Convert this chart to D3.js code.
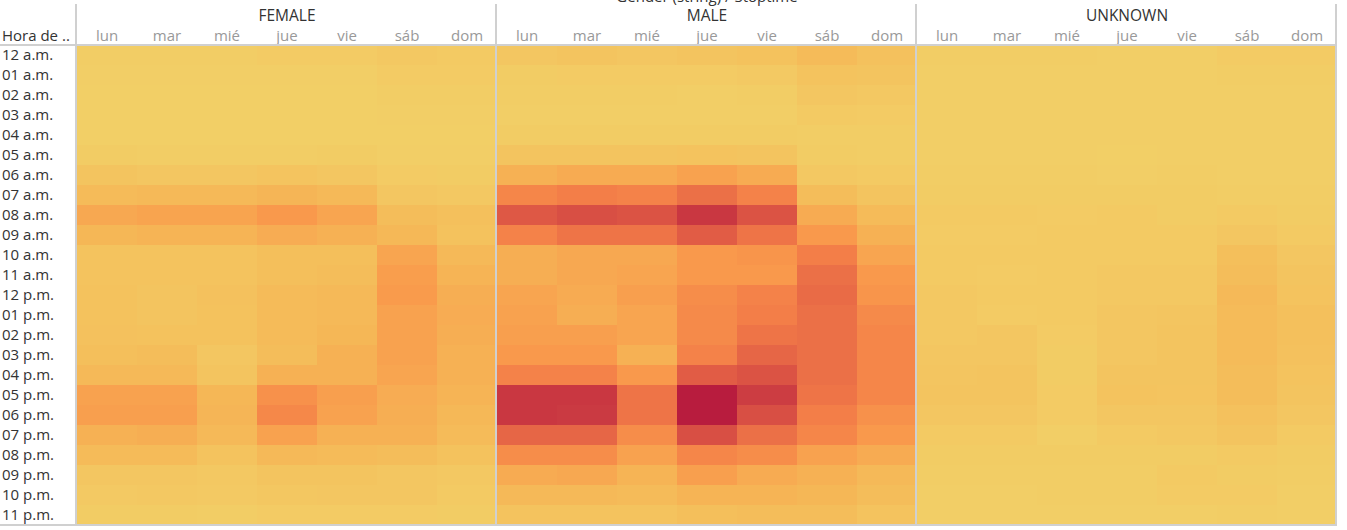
<!DOCTYPE html>
<html>
<head>
<meta charset="utf-8">
<script src="https://cdn.jsdelivr.net/npm/d3@7"></script>
<style>
  body { margin: 0; background: #fff; }
  text { font-family: "Open Sans", "DejaVu Sans", sans-serif; }
</style>
</head>
<body>
<div id="chart"></div>
<script>
const genders = ["FEMALE", "MALE", "UNKNOWN"];
const days = ["lun", "mar", "mié", "jue", "vie", "sáb", "dom"];
const hours = ["12 a.m.", "01 a.m.", "02 a.m.", "03 a.m.", "04 a.m.", "05 a.m.", "06 a.m.", "07 a.m.",
  "08 a.m.", "09 a.m.", "10 a.m.", "11 a.m.", "12 p.m.", "01 p.m.", "02 p.m.", "03 p.m.",
  "04 p.m.", "05 p.m.", "06 p.m.", "07 p.m.", "08 p.m.", "09 p.m.", "10 p.m.", "11 p.m."];

// relative intensity per hour (rows) and weekday (cols)
const female = [
  [0.03, 0.03, 0.03, 0.05, 0.05, 0.08, 0.06],
  [0.02, 0.02, 0.02, 0.02, 0.02, 0.05, 0.05],
  [0.01, 0.01, 0.01, 0.01, 0.01, 0.03, 0.03],
  [0.01, 0.01, 0.01, 0.01, 0.01, 0.02, 0.02],
  [0.01, 0.01, 0.01, 0.01, 0.01, 0.01, 0.01],
  [0.04, 0.03, 0.03, 0.03, 0.04, 0.02, 0.02],
  [0.12, 0.10, 0.10, 0.13, 0.10, 0.05, 0.04],
  [0.22, 0.24, 0.24, 0.27, 0.24, 0.10, 0.08],
  [0.36, 0.39, 0.39, 0.46, 0.38, 0.20, 0.17],
  [0.26, 0.28, 0.28, 0.33, 0.30, 0.25, 0.15],
  [0.14, 0.14, 0.14, 0.18, 0.18, 0.38, 0.24],
  [0.14, 0.14, 0.14, 0.18, 0.20, 0.43, 0.28],
  [0.15, 0.12, 0.16, 0.22, 0.24, 0.45, 0.32],
  [0.15, 0.12, 0.15, 0.22, 0.24, 0.40, 0.33],
  [0.16, 0.15, 0.15, 0.22, 0.26, 0.40, 0.32],
  [0.18, 0.20, 0.10, 0.20, 0.30, 0.40, 0.30],
  [0.24, 0.24, 0.12, 0.30, 0.30, 0.38, 0.30],
  [0.40, 0.40, 0.26, 0.50, 0.42, 0.33, 0.28],
  [0.42, 0.42, 0.27, 0.55, 0.40, 0.32, 0.25],
  [0.30, 0.32, 0.24, 0.40, 0.30, 0.30, 0.22],
  [0.22, 0.22, 0.14, 0.24, 0.22, 0.20, 0.15],
  [0.10, 0.10, 0.08, 0.12, 0.12, 0.10, 0.08],
  [0.07, 0.08, 0.07, 0.09, 0.10, 0.10, 0.06],
  [0.04, 0.04, 0.03, 0.05, 0.05, 0.05, 0.04]
];
const male = [
  [0.10, 0.12, 0.10, 0.12, 0.15, 0.22, 0.16],
  [0.04, 0.05, 0.05, 0.05, 0.07, 0.14, 0.12],
  [0.03, 0.03, 0.03, 0.02, 0.03, 0.10, 0.08],
  [0.02, 0.02, 0.02, 0.02, 0.02, 0.06, 0.05],
  [0.04, 0.04, 0.04, 0.04, 0.04, 0.03, 0.03],
  [0.12, 0.12, 0.12, 0.14, 0.12, 0.04, 0.03],
  [0.30, 0.34, 0.34, 0.40, 0.34, 0.08, 0.06],
  [0.56, 0.60, 0.58, 0.66, 0.58, 0.20, 0.12],
  [0.76, 0.80, 0.78, 0.90, 0.78, 0.34, 0.22],
  [0.58, 0.64, 0.64, 0.74, 0.64, 0.46, 0.30],
  [0.32, 0.36, 0.36, 0.46, 0.48, 0.60, 0.38],
  [0.32, 0.36, 0.38, 0.46, 0.46, 0.66, 0.46],
  [0.38, 0.34, 0.42, 0.52, 0.58, 0.68, 0.48],
  [0.40, 0.32, 0.38, 0.54, 0.60, 0.66, 0.54],
  [0.42, 0.42, 0.38, 0.54, 0.64, 0.66, 0.56],
  [0.46, 0.46, 0.30, 0.58, 0.70, 0.66, 0.56],
  [0.58, 0.58, 0.46, 0.74, 0.78, 0.66, 0.56],
  [0.90, 0.90, 0.64, 1.00, 0.88, 0.64, 0.56],
  [0.90, 0.89, 0.64, 1.00, 0.80, 0.60, 0.50],
  [0.70, 0.70, 0.52, 0.80, 0.66, 0.56, 0.46],
  [0.52, 0.52, 0.40, 0.56, 0.52, 0.40, 0.34],
  [0.34, 0.36, 0.28, 0.42, 0.34, 0.30, 0.24],
  [0.24, 0.24, 0.22, 0.28, 0.28, 0.26, 0.20],
  [0.14, 0.14, 0.14, 0.18, 0.20, 0.20, 0.14]
];
const unknown = [
  [0.03, 0.03, 0.03, 0.02, 0.02, 0.05, 0.05],
  [0.02, 0.02, 0.02, 0.02, 0.02, 0.03, 0.03],
  [0.02, 0.02, 0.02, 0.02, 0.02, 0.02, 0.02],
  [0.02, 0.02, 0.02, 0.02, 0.02, 0.02, 0.02],
  [0.02, 0.02, 0.02, 0.02, 0.02, 0.02, 0.02],
  [0.02, 0.02, 0.02, 0.01, 0.02, 0.02, 0.02],
  [0.03, 0.03, 0.03, 0.02, 0.03, 0.02, 0.02],
  [0.04, 0.04, 0.04, 0.04, 0.04, 0.03, 0.03],
  [0.06, 0.06, 0.05, 0.06, 0.04, 0.06, 0.04],
  [0.05, 0.05, 0.06, 0.06, 0.06, 0.10, 0.06],
  [0.06, 0.06, 0.06, 0.06, 0.06, 0.18, 0.10],
  [0.06, 0.05, 0.06, 0.08, 0.08, 0.20, 0.12],
  [0.08, 0.06, 0.06, 0.08, 0.08, 0.24, 0.14],
  [0.08, 0.05, 0.06, 0.10, 0.11, 0.22, 0.17],
  [0.08, 0.10, 0.05, 0.10, 0.12, 0.22, 0.17],
  [0.10, 0.10, 0.04, 0.10, 0.12, 0.22, 0.16],
  [0.11, 0.12, 0.04, 0.12, 0.12, 0.20, 0.14],
  [0.12, 0.12, 0.05, 0.14, 0.13, 0.20, 0.12],
  [0.10, 0.10, 0.05, 0.10, 0.10, 0.16, 0.10],
  [0.06, 0.06, 0.02, 0.06, 0.08, 0.12, 0.06],
  [0.04, 0.04, 0.04, 0.04, 0.04, 0.06, 0.04],
  [0.03, 0.03, 0.03, 0.03, 0.06, 0.04, 0.03],
  [0.02, 0.02, 0.03, 0.03, 0.05, 0.05, 0.02],
  [0.02, 0.02, 0.02, 0.02, 0.02, 0.03, 0.02]
];
const series = [female, male, unknown];

const width = 1347, height = 530;
const margin = {left: 77, top: 45};
const panelW = 420, rowH = 20;

const svg = d3.select("#chart").append("svg")
  .attr("width", width)
  .attr("height", height);

const panelX = d3.scaleBand().domain(genders).range([margin.left, margin.left + panelW * 3]);
const dayX = d3.scaleBand().domain(days).range([0, panelW]);
const y = d3.scaleBand().domain(hours).range([margin.top, margin.top + rowH * hours.length]);

const color = d3.scaleLinear()
  .domain([0, 0.25, 0.45, 0.6, 0.75, 0.88, 1])
  .range(["#f2d067", "#f5b857", "#f99b4c", "#f37e48", "#e05a45", "#cc3d42", "#b81c3e"])
  .interpolate(d3.interpolateRgb);

// title, clipped by the top edge as in the original view
svg.append("text")
  .attr("x", panelX("MALE") + panelW / 2)
  .attr("y", 2)
  .attr("text-anchor", "middle")
  .attr("font-size", 15)
  .attr("fill", "#333")
  .text("Gender (string) / Stoptime");

const cells = [];
genders.forEach((g, gi) => {
  hours.forEach((h, hi) => {
    days.forEach((d, di) => {
      cells.push({g: g, h: h, d: d, v: series[gi][hi][di]});
    });
  });
});

svg.append("g")
  .selectAll("rect")
  .data(cells)
  .enter().append("rect")
  .attr("x", d => panelX(d.g) + dayX(d.d))
  .attr("y", d => y(d.h))
  .attr("width", dayX.bandwidth())
  .attr("height", y.bandwidth())
  .attr("fill", d => color(d.v))
  .attr("shape-rendering", "crispEdges");

const panels = svg.append("g")
  .selectAll("g")
  .data(genders)
  .enter().append("g")
  .attr("transform", d => "translate(" + panelX(d) + ",0)");

panels.append("text")
  .attr("x", panelW / 2)
  .attr("y", 21)
  .attr("text-anchor", "middle")
  .attr("font-size", 15.5)
  .attr("fill", "#333")
  .text(d => d);

panels.selectAll(".day")
  .data(days)
  .enter().append("text")
  .attr("class", "day")
  .attr("x", d => dayX(d) + dayX.bandwidth() / 2)
  .attr("y", 41)
  .attr("text-anchor", "middle")
  .attr("font-size", 15)
  .attr("fill", "#999")
  .text(d => d);

// row labels
svg.append("text")
  .attr("x", 2)
  .attr("y", 41)
  .attr("font-size", 15)
  .attr("fill", "#333")
  .text("Hora de ..");

svg.append("g")
  .selectAll("text")
  .data(hours)
  .enter().append("text")
  .attr("x", 2)
  .attr("y", d => y(d) + y.bandwidth() / 2 + 5)
  .attr("font-size", 15)
  .attr("fill", "#333")
  .text(d => d);

// grid lines
const lines = svg.append("g")
  .attr("stroke", "#d0d0d0")
  .attr("stroke-width", 1.5)
  .attr("shape-rendering", "crispEdges");

lines.append("line")
  .attr("x1", 0).attr("x2", margin.left + panelW * 3)
  .attr("y1", margin.top).attr("y2", margin.top);
lines.append("line")
  .attr("x1", 0).attr("x2", margin.left + panelW * 3)
  .attr("y1", y.range()[1]).attr("y2", y.range()[1]);

lines.selectAll(".v")
  .data(genders.concat(["end"]))
  .enter().append("line")
  .attr("class", "v")
  .attr("x1", (d, i) => margin.left - 1 + i * panelW)
  .attr("x2", (d, i) => margin.left - 1 + i * panelW)
  .attr("y1", 4)
  .attr("y2", y.range()[1]);
</script>
</body>
</html>
